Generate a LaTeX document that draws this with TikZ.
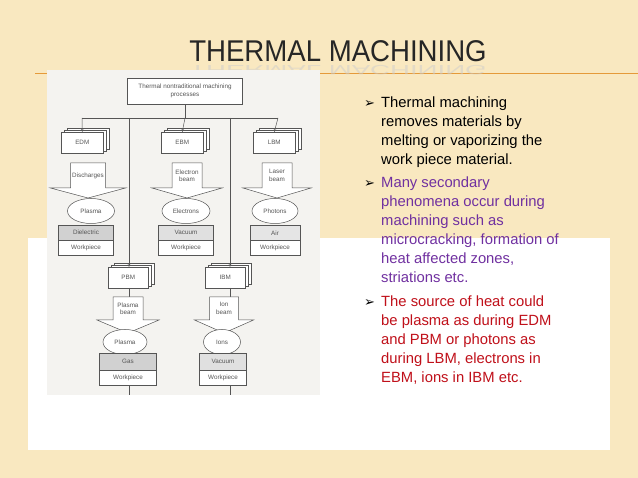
\documentclass[tikz,border=0pt]{standalone}
\usepackage{fontspec}
\setmainfont{Liberation Sans}
\newfontfamily\dejav{DejaVu Sans}
\usetikzlibrary{arrows.meta,shapes.geometric}
\definecolor{bg}{HTML}{F9E8C0}
\definecolor{scan}{HTML}{F4F3F0}
\definecolor{ln}{HTML}{555555}
\definecolor{purp}{HTML}{7030A0}
\definecolor{dred}{HTML}{C0101A}
\definecolor{orng}{HTML}{E59A3A}
\tikzset{
  box/.style={draw=ln,fill=white,line width=0.5pt,font=\fontsize{6.3}{7.3}\selectfont,text=ln,align=center,inner sep=1pt},
  ell/.style={draw=ln,fill=white,ellipse,line width=0.5pt,font=\fontsize{6.3}{7.3}\selectfont,text=ln,inner sep=0pt},
  conn/.style={draw=ln,line width=0.5pt},
  arr/.style={conn,-{Stealth[length=3pt,width=2.5pt]}},
  txt/.style={anchor=base west,font=\fontsize{14.8}{16}\selectfont,inner sep=0pt},
}
\newcommand{\stk}[6]{%
  \draw[ln,fill=white,line width=0.4pt] (#2-#4/2+6,#3-4) rectangle ++(#4,#5);
  \draw[ln,fill=white,line width=0.4pt] (#2-#4/2+3,#3-2) rectangle ++(#4,#5);
  \node[box,minimum width=#4pt,minimum height=#5pt,anchor=north west] (#1) at (#2-#4/2,#3) {#6};}
\newcommand{\barr}[7]{%
  \draw[ln,fill=white,line width=0.5pt] (#1-#3/2,#2) -- (#1+#3/2,#2) -- (#1+#3/2,#5) -- (#1+#4/2,#5) -- (#1,#6) -- (#1-#4/2,#5) -- (#1-#3/2,#5) -- cycle;
  \node[font=\fontsize{6.3}{7.3}\selectfont,text=ln,align=center] at (#1,{(#2+#5)/2}) {#7};}
\begin{document}
\begin{tikzpicture}[x=1pt,y=-1pt]
\useasboundingbox (0,0) rectangle (638,478);
\fill[bg] (0,0) rectangle (638,478);
\fill[white] (28,238) rectangle (610,450);
\draw[orng,line width=0.8pt] (35,73) -- (638,73);
\node[anchor=base,font=\fontsize{30}{30}\selectfont,text=black!20,xscale=0.92,yscale=-0.45,inner sep=0,opacity=0.5] (refl) at (338,66) {THERMAL MACHINING};
\node[anchor=base,font=\fontsize{30}{30}\selectfont,text=black!85,xscale=0.92,inner sep=0] (title) at (338,62) {THERMAL MACHINING};
\fill[scan] (47,70) rectangle (320,395);
\node[box,minimum width=115pt,minimum height=26pt] (top) at (185,91) {Thermal nontraditional machining\\processes};
\coordinate (j) at (185,118);
\coordinate (jl) at (82,118);
\coordinate (jr) at (278,118);
\draw[conn] (top.south) -- (j);
\draw[conn] (jl) -- (jr);
\stk{edm}{82}{132}{42}{21}{EDM}
\stk{ebm}{182}{132}{42}{21}{EBM}
\stk{lbm}{274}{132}{42}{21}{LBM}
\draw[arr] (jl) -- (edm.north);
\draw[arr] (j) -- (ebm.north);
\draw[arr] (jr) -- (lbm.north);
\coordinate (s1) at (129,118);
\coordinate (s2) at (230,118);
\stk{pbm}{128}{267}{40}{21}{PBM}
\stk{ibm}{225}{267}{40}{21}{IBM}
\draw[arr] (s1) -- (129,267);
\draw[arr] (s2) -- (230,267);
\draw[conn] (129,288) -- (129,395);
\draw[conn] (230,288) -- (230,395);
\barr{88}{163}{35}{75}{188}{198}{Discharges}
\barr{187}{163}{30}{70}{188}{198}{Electron\\beam}
\barr{277}{163}{30}{68}{188}{198}{Laser\\beam}
\node[ell,minimum width=47pt,minimum height=25pt] (e1) at (91,211) {Plasma};
\node[ell,minimum width=48pt,minimum height=25pt] (e2) at (186,211) {Electrons};
\node[ell,minimum width=46pt,minimum height=25pt] (e3) at (275,211) {Photons};
\node[box,fill=black!18,minimum width=55pt,minimum height=15pt,anchor=north] (m1) at (86,225) {Dielectric};
\node[box,minimum width=55pt,minimum height=15pt,anchor=north] (w1) at (m1.south) {Workpiece};
\node[box,fill=black!12,minimum width=55pt,minimum height=15pt,anchor=north] (m2) at (186,225) {Vacuum};
\node[box,minimum width=55pt,minimum height=15pt,anchor=north] (w2) at (m2.south) {Workpiece};
\node[box,fill=black!10,minimum width=50pt,minimum height=15pt,anchor=north] (m3) at (275,225) {Air};
\node[box,minimum width=50pt,minimum height=15pt,anchor=north] (w3) at (m3.south) {Workpiece};
\barr{128}{297}{30}{62}{320}{333}{Plasma\\beam}
\barr{224}{297}{29}{59}{320}{333}{Ion\\beam}
\node[ell,minimum width=44pt,minimum height=25pt] (e4) at (125,342) {Plasma};
\node[ell,minimum width=37pt,minimum height=25pt] (e5) at (222,342) {Ions};
\node[box,fill=black!18,minimum width=57pt,minimum height=17pt,anchor=north] (m4) at (128,353) {Gas};
\node[box,minimum width=57pt,minimum height=15pt,anchor=north] (w4) at (m4.south) {Workpiece};
\node[box,fill=black!12,minimum width=47pt,minimum height=17pt,anchor=north] (m5) at (223,353) {Vacuum};
\node[box,minimum width=47pt,minimum height=15pt,anchor=north] (w5) at (m5.south) {Workpiece};
\begin{scope}[every node/.style={txt}]
\node[text=black] (b1) at (364,108) {\dejav\fontsize{13}{13}\selectfont ➢};
\node (t1) at (381,108) {Thermal machining};
\node (t2) at (381,127) {removes materials by};
\node (t3) at (381,146) {melting or vaporizing the};
\node (t4) at (381,165) {work piece material.};
\node[text=black] (b2) at (364,188) {\dejav\fontsize{13}{13}\selectfont ➢};
\node[text=purp] (t5) at (381,188) {Many secondary};
\node[text=purp] (t6) at (381,207) {phenomena occur during};
\node[text=purp] (t7) at (381,226) {machining such as};
\node[text=purp] (t8) at (381,245) {microcracking, formation of};
\node[text=purp] (t9) at (381,264) {heat affected zones,};
\node[text=purp] (t10) at (381,283) {striations etc.};
\node[text=black] (b3) at (364,307) {\dejav\fontsize{13}{13}\selectfont ➢};
\node[text=dred] (t11) at (381,307) {The source of heat could};
\node[text=dred] (t12) at (381,326) {be plasma as during EDM};
\node[text=dred] (t13) at (381,345) {and PBM or photons as};
\node[text=dred] (t14) at (381,364) {during LBM, electrons in};
\node[text=dred] (t15) at (381,383) {EBM, ions in IBM etc.};
\end{scope}
\end{tikzpicture}
\end{document}
